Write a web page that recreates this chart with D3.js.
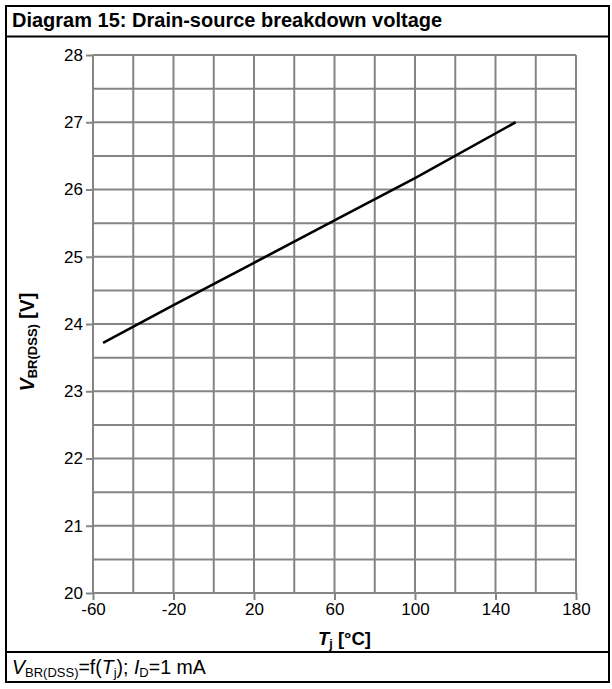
<!DOCTYPE html>
<html>
<head>
<meta charset="utf-8">
<script src="https://cdn.jsdelivr.net/npm/d3@7"></script>
<style>
  body { margin: 0; background: #fff; }
  svg { font-family: "Liberation Sans", Arial, sans-serif; }
</style>
</head>
<body>
<svg id="chart" width="612" height="689"></svg>
<script>
// Data
const tempC = [-55, -20, 20, 60, 100, 150];
const vbrDss = [23.72, 24.28, 24.91, 25.54, 26.17, 27.0];
const xTicks = [-60, -20, 20, 60, 100, 140, 180];
const yTicks = [20, 21, 22, 23, 24, 25, 26, 27, 28];

const margin = { top: 55, right: 36, bottom: 96, left: 93 };
const width = 612 - margin.left - margin.right;
const height = 689 - margin.top - margin.bottom;

const root = d3.select("#chart");

// Outer frame, header and footer dividers
root.append("rect")
  .attr("x", 6).attr("y", 6)
  .attr("width", 603).attr("height", 676)
  .attr("fill", "none").attr("stroke", "#000").attr("stroke-width", 2);
root.append("line")
  .attr("x1", 6).attr("x2", 609).attr("y1", 36.5).attr("y2", 36.5)
  .attr("stroke", "#000").attr("stroke-width", 2);
root.append("line")
  .attr("x1", 6).attr("x2", 609).attr("y1", 652).attr("y2", 652)
  .attr("stroke", "#000").attr("stroke-width", 2);

root.append("text")
  .attr("x", 12).attr("y", 27)
  .attr("font-size", 20).attr("font-weight", "bold")
  .text("Diagram 15: Drain-source breakdown voltage");

const svg = root.append("g")
  .attr("transform", `translate(${margin.left}, ${margin.top})`);

const x = d3.scaleLinear().domain([-60, 180]).range([0, width]);
const y = d3.scaleLinear().domain([20, 28]).range([height, 0]);

// grid: every 20 °C and every 0.5 V
const gridColor = "#858585";
svg.append("g")
  .selectAll("line")
  .data(d3.range(-60, 181, 20))
  .join("line")
  .attr("x1", (d) => x(d)).attr("x2", (d) => x(d))
  .attr("y1", 0).attr("y2", height)
  .attr("stroke", gridColor).attr("stroke-width", 2);
svg.append("g")
  .selectAll("line")
  .data(d3.range(20, 28.01, 0.5))
  .join("line")
  .attr("x1", 0).attr("x2", width)
  .attr("y1", (d) => y(d)).attr("y2", (d) => y(d))
  .attr("stroke", gridColor).attr("stroke-width", 2);

// axes (plain hyphen for negatives, like the datasheet)
const xAxis = svg.append("g")
  .attr("transform", `translate(0, ${height})`)
  .call(d3.axisBottom(x).tickValues(xTicks).tickFormat((d) => String(d))
    .tickSize(7).tickPadding(3));
const yAxis = svg.append("g")
  .call(d3.axisLeft(y).tickValues(yTicks).tickFormat((d) => String(d))
    .tickSize(7).tickPadding(3));

[xAxis, yAxis].forEach((ax) => {
  ax.select(".domain").remove();
  ax.selectAll("line").attr("stroke", gridColor).attr("stroke-width", 2);
  ax.selectAll("text")
    .attr("font-size", 17)
    .attr("fill", "#000")
    .attr("font-family", "Liberation Sans, Arial, sans-serif");
});

// curve
svg.append("path")
  .datum(tempC.map((t, i) => [t, vbrDss[i]]))
  .attr("fill", "none")
  .attr("stroke", "#000")
  .attr("stroke-width", 2.6)
  .attr("d", d3.line().x((d) => x(d[0])).y((d) => y(d[1])));

// x-axis label
const xl = svg.append("text")
  .attr("x", width / 2 + 10)
  .attr("y", height + 52)
  .attr("text-anchor", "middle")
  .attr("font-size", 18.5)
  .attr("font-weight", "bold");
xl.append("tspan").attr("font-style", "italic").text("T");
xl.append("tspan").attr("font-size", 12.5).attr("dy", 3).text("j");
xl.append("tspan").attr("dy", -3).text(" [°C]");

// y-axis label
const yl = svg.append("text")
  .attr("transform", `translate(${-59}, ${height / 2 + 18}) rotate(-90)`)
  .attr("text-anchor", "middle")
  .attr("font-size", 19.5)
  .attr("font-weight", "bold");
yl.append("tspan").attr("font-style", "italic").text("V");
yl.append("tspan").attr("font-size", 13).attr("dy", 3).text("BR(DSS)");
yl.append("tspan").attr("dy", -3).text(" [V]");

// footer condition text
const ft = root.append("text")
  .attr("x", 12).attr("y", 674)
  .attr("font-size", 19.5);
ft.append("tspan").attr("font-style", "italic").text("V");
ft.append("tspan").attr("font-size", 13).attr("dy", 3).text("BR(DSS)");
ft.append("tspan").attr("dy", -3).text("=f(");
ft.append("tspan").attr("font-style", "italic").text("T");
ft.append("tspan").attr("font-size", 13).attr("dy", 3).text("j");
ft.append("tspan").attr("dy", -3).text("); ");
ft.append("tspan").attr("font-style", "italic").text("I");
ft.append("tspan").attr("font-size", 13).attr("dy", 3).text("D");
ft.append("tspan").attr("dy", -3).text("=1 mA");
</script>
</body>
</html>
